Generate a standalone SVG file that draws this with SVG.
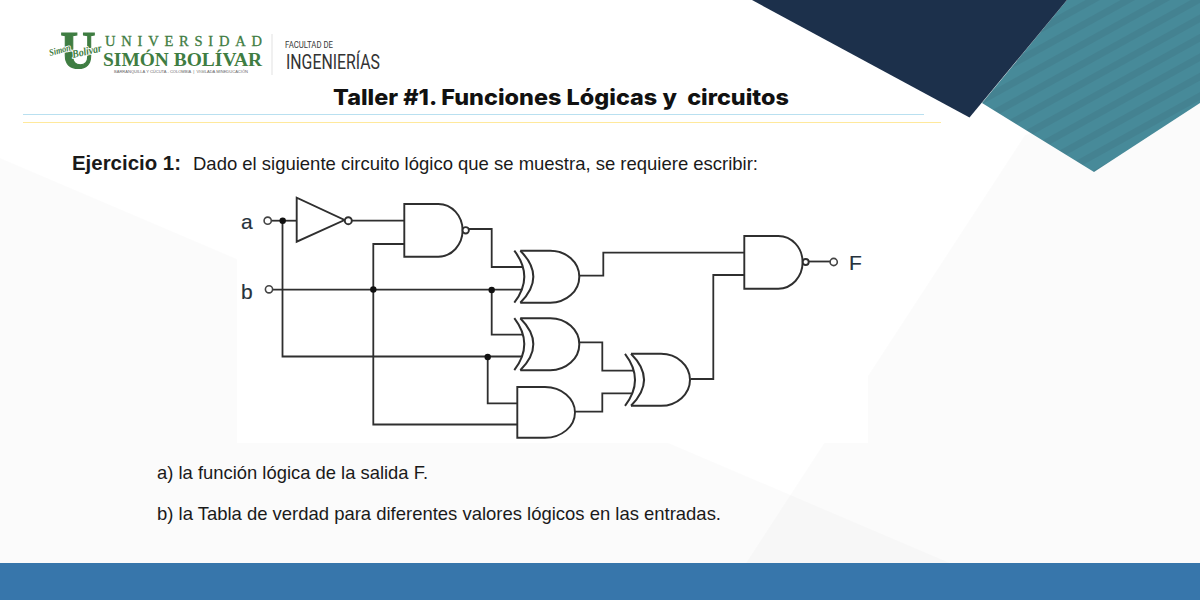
<svg xmlns="http://www.w3.org/2000/svg" width="1200" height="600" viewBox="0 0 1200 600">
<style>
text{font-family:"Liberation Sans",Arial,sans-serif;white-space:pre}
.body{font-size:18.6px;fill:#1a1a1a}
.lbl{font-size:21px;fill:#26323c;stroke:#26323c;stroke-width:.15}
.serif{font-family:"Liberation Serif","Times New Roman",serif;fill:#3f7d42}
.w{fill:none;stroke:#2f2f2f;stroke-width:1.8;stroke-linejoin:miter}
.g{fill:#fff;stroke:#2f2f2f;stroke-width:1.9}
.gn{fill:none;stroke:#2f2f2f;stroke-width:2}
.t{fill:#fff;stroke:#444;stroke-width:1.6}
.d{fill:#111}
.shade{fill:#000;fill-opacity:.016}
.sig{font-style:italic;font-weight:700;stroke:#fff;stroke-width:1.8;paint-order:stroke}
</style>
<defs>
<pattern id="stripes" width="40" height="17" patternUnits="userSpaceOnUse" patternTransform="rotate(-29 1067 0)">
<rect width="40" height="17" fill="#478a99"/>
<rect y="9" width="40" height="7" fill="#448291"/>
</pattern>
<g id="xor">
<path class="gn" d="M0,-26 Q20,0 0,26"/>
<path class="gn" d="M6,-26 Q32,0 6,26"/>
<path class="gn" d="M6,-26 H36 A29,26 0 0 1 36,26 H6"/>
</g>
<path id="nand" class="g" d="M0,0 V52.7 H34 A24.3,26.35 0 0 0 34,0 Z"/>
</defs>

<g id="background">
<rect width="1200" height="600" fill="#fff"/>
<polygon class="shade" points="0,158 950,563 0,563"/>
<polygon class="shade" points="1025,135 1200,80 1200,563 746,563"/>
<rect x="237" y="195" width="631" height="248" fill="#fff"/>
<polygon points="1067,0 1200,0 1200,103 1094,172 982,103" fill="url(#stripes)"/>
<polygon points="752,0 1067,0 969.5,117.5" fill="#1c304b"/>
<rect y="563" width="1200" height="37" fill="#3776ab"/>
<line x1="23" y1="114.5" x2="924" y2="114.5" stroke="#b9e0f0" stroke-width="1"/>
<line x1="23" y1="122.5" x2="941" y2="122.5" stroke="#ffe99c" stroke-width="1"/>
</g>

<g id="logo">
<text class="serif" x="60.5" y="68" font-size="53" font-weight="700" stroke="#3f7d42" stroke-width="1.2" textLength="35" lengthAdjust="spacingAndGlyphs">U</text>
<text class="serif sig" font-size="9.5" textLength="22" lengthAdjust="spacingAndGlyphs" transform="translate(50,56) rotate(-15)">Simon</text>
<text class="serif sig" font-size="11" textLength="30" lengthAdjust="spacingAndGlyphs" transform="translate(73,58) rotate(-13)">Bolivar</text>
<text class="serif" x="105" y="46" font-size="14.5" font-weight="400" stroke="#3f7d42" stroke-width=".3" textLength="157">UNIVERSIDAD</text>
<text class="serif" x="103" y="65.5" font-size="19.5" font-weight="700" textLength="159" lengthAdjust="spacingAndGlyphs">SIMÓN BOLÍVAR</text>
<text x="114" y="72.8" font-size="4.4" fill="#666" textLength="134" lengthAdjust="spacingAndGlyphs">BARRANQUILLA Y CÚCUTA - COLOMBIA  |  VIGILADA MINEDUCACIÓN</text>
<rect x="271.5" y="34" width="1" height="41" fill="#e2e2e2"/>
<text x="285" y="48" font-size="9.6" fill="#3a3a3a" style="font-family:Roboto,sans-serif" textLength="48" lengthAdjust="spacingAndGlyphs">FACULTAD DE</text>
<text x="286" y="69" font-size="19.5" fill="#333" style="font-family:Roboto,sans-serif" textLength="94" lengthAdjust="spacingAndGlyphs">INGENIERÍAS</text>
</g>

<g id="texts">
<text x="333" y="105" font-size="22" font-weight="800" fill="#111" style="font-family:Inter,sans-serif" textLength="456" lengthAdjust="spacingAndGlyphs">Taller #1. Funciones Lógicas y  circuitos</text>
<text x="72" y="169.5" font-size="20.4" font-weight="700" fill="#1a1a1a" textLength="109" lengthAdjust="spacingAndGlyphs">Ejercicio 1:</text>
<text class="body" x="193" y="170" textLength="565" lengthAdjust="spacingAndGlyphs">Dado el siguiente circuito lógico que se muestra, se requiere escribir:</text>
<text class="body" x="157" y="479" textLength="271" lengthAdjust="spacingAndGlyphs">a) la función lógica de la salida F.</text>
<text class="body" x="157" y="520" textLength="564" lengthAdjust="spacingAndGlyphs">b) la Tabla de verdad para diferentes valores lógicos en las entradas.</text>
</g>

<g id="connectors">
<path class="w" d="M271.5,220.7 H296.7"/>
<path class="w" d="M351.8,220.7 H404.3"/>
<path class="w" d="M282.5,220.7 V356.5 H522"/>
<path class="w" d="M272.7,289.7 H522"/>
<path class="w" d="M404.3,244 H373.3 V424.5 H517.3"/>
<path class="w" d="M469,229 H491.7 V267 H522"/>
<path class="w" d="M491.7,290 V334.7 H522"/>
<path class="w" d="M487.7,357 V403.3 H517.3"/>
<path class="w" d="M579.3,275.7 H603.3 V252.7 H744.3"/>
<path class="w" d="M579.3,342.3 H602.3 V370.7 H633"/>
<path class="w" d="M575,411.7 H602.3 V393.3 H633"/>
<path class="w" d="M690.7,379 H713.3 V275 H744.3"/>
<path class="w" d="M809,261.5 H830"/>
<circle class="d" cx="282.7" cy="220.7" r="3.2"/>
<circle class="d" cx="373.3" cy="289.5" r="3.2"/>
<circle class="d" cx="491.7" cy="290" r="3.2"/>
<circle class="d" cx="487.7" cy="357" r="3.2"/>
</g>

<g id="input-a"><circle class="t" cx="267.7" cy="220.7" r="3.6"/><text class="lbl" x="241" y="228.5">a</text></g>
<g id="input-b"><circle class="t" cx="269" cy="289.3" r="3.6"/><text class="lbl" x="241" y="298.5">b</text></g>
<g id="not1"><polygon class="g" points="296.7,197.7 296.7,241.7 344.5,220"/><circle class="g" cx="348.3" cy="220.7" r="3.5"/></g>
<g id="nand1"><use href="#nand" x="404.3" y="204"/><circle class="g" cx="465.7" cy="230.3" r="3.2"/></g>
<g id="xor1"><use href="#xor" x="514.3" y="276.7"/></g>
<g id="xor2"><use href="#xor" x="514.3" y="344.2"/></g>
<g id="and1"><path class="g" d="M517.3,387 V437.8 H545 A30,25.4 0 0 0 545,387 Z"/></g>
<g id="xor3"><use href="#xor" x="625" y="379.8"/></g>
<g id="nand2"><use href="#nand" x="744.3" y="236"/><circle class="g" cx="805.7" cy="262" r="3"/></g>
<g id="output-f"><circle class="t" cx="833.7" cy="262" r="3.6"/><text class="lbl" x="849" y="270">F</text></g>
</svg>
